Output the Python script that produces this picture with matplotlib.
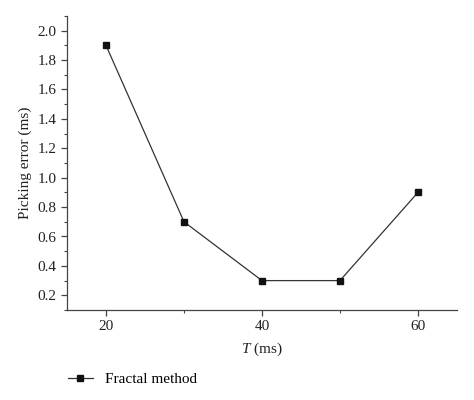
import matplotlib.pyplot as plt
from matplotlib.ticker import MultipleLocator

# data
T_ms = [20, 30, 40, 50, 60]
picking_error = [1.9, 0.7, 0.3, 0.3, 0.9]

plt.rcParams['font.family'] = ['Liberation Serif', 'DejaVu Serif']
plt.rcParams['font.size'] = 11
plt.rcParams['mathtext.fontset'] = 'custom'
plt.rcParams['mathtext.it'] = 'Liberation Serif:italic'
plt.rcParams['mathtext.rm'] = 'Liberation Serif'

fig = plt.figure(figsize=(4.74, 4.0), dpi=100)
ax = fig.add_axes([0.1414, 0.225, 0.8226, 0.735])

line, = ax.plot(T_ms, picking_error, color='#333333', linewidth=0.9,
                marker='s', markersize=4.5, markerfacecolor='#111111',
                markeredgecolor='#111111', label='Fractal method')

ax.set_xlim(15, 65)
ax.set_ylim(0.1, 2.1)
ax.xaxis.set_major_locator(MultipleLocator(20))
ax.xaxis.set_minor_locator(MultipleLocator(10))
ax.yaxis.set_major_locator(MultipleLocator(0.2))
ax.yaxis.set_minor_locator(MultipleLocator(0.1))

for s in ['top', 'right']:
    ax.spines[s].set_visible(False)
for s in ['left', 'bottom']:
    ax.spines[s].set_color('#444444')
    ax.spines[s].set_linewidth(0.9)

ax.tick_params(which='major', direction='out', length=4, width=0.9,
               color='#444444', labelsize=11, labelcolor='#222222')
ax.tick_params(which='minor', direction='out', length=2.5, width=0.8,
               color='#444444')

ax.set_xlabel(r'$T$ (ms)', fontsize=11, color='#222222', labelpad=5)
ax.set_ylabel('Picking error (ms)', fontsize=11, color='#222222', labelpad=4)

fig.legend(handles=[line], loc='lower left', bbox_to_anchor=(0.115, 0.0),
           frameon=False, fontsize=11, handlelength=1.6, handletextpad=0.8)

plt.savefig('out.png', dpi=100)
